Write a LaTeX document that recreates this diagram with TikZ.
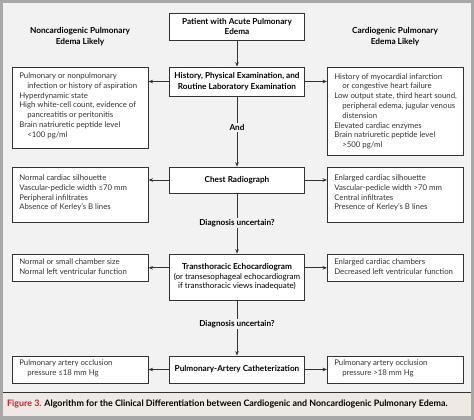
\documentclass[tikz,border=0pt]{standalone}
\usepackage{fontspec}
\setmainfont{Lato}
\usetikzlibrary{arrows.meta,calc}
\definecolor{bg}{HTML}{F2F2F2}
\definecolor{framec}{HTML}{A8A8A8}
\definecolor{capbg}{HTML}{EEE9E2}
\definecolor{capred}{HTML}{C8202F}
\definecolor{ink}{HTML}{333333}
\newcommand\pline[1]{\mbox{#1}\par}
\newcommand\iline[1]{\hspace*{8pt}\mbox{#1}\par}
\newcommand\sidetext[3]{\parbox[c][#1][t]{122pt}{\raggedright\vspace*{#2}#3}}
\begin{document}
\begin{tikzpicture}[x=1pt,y=-1pt,
  mainbox/.style={draw=ink, line width=0.8pt, fill=white, minimum width=135pt, align=center, font=\fontsize{8.2}{10.5}\selectfont\bfseries, inner sep=0pt},
  sidebox/.style={draw=ink, line width=0.6pt, fill=white, inner xsep=7pt, inner ysep=0pt, font=\fontsize{7.8}{9.8}\selectfont, anchor=north west, text=ink},
  arr/.style={draw=ink, line width=0.7pt, -{Stealth[length=4.5pt,width=3.6pt]}},
  lbl/.style={fill=bg, inner sep=1.5pt, font=\fontsize{8.2}{10}\selectfont\bfseries},
  head/.style={align=center, font=\fontsize{8.3}{11}\selectfont\bfseries}]
\useasboundingbox (0,0) rectangle (474,420);
\fill[framec] (0,0) rectangle (474,420);
\fill[bg] (3,3) rectangle (471,392);
\fill[capbg] (3,392) rectangle (471,416);
\draw[ink, line width=0.8pt] (3,392) -- (471,392);

% headings
\node[head] (hl) at (80,37) {Noncardiogenic Pulmonary\\Edema Likely};
\node[head] (hr) at (395,37) {Cardiogenic Pulmonary\\Edema Likely};

% main column
\node[mainbox, minimum height=27pt] (pat) at (237,26.5) {Patient with Acute Pulmonary\\Edema};
\node[mainbox, minimum height=29pt] (hist) at (237,81.5) {History, Physical Examination, and\\Routine Laboratory Examination};
\node[mainbox, minimum height=26pt] (cxr) at (237,180) {Chest Radiograph};
\node[mainbox, minimum height=46pt] (tte) at (237,277) {Transthoracic Echocardiogram\\[-0.5pt]{\mdseries\fontsize{8}{9.5}\selectfont (or transesophageal echocardiogram}\\[-1.5pt]{\mdseries\fontsize{8}{9.5}\selectfont if transthoracic views inadequate)}};
\node[mainbox, minimum height=27pt] (pac) at (237,369.5) {Pulmonary-Artery Catheterization};

% left column
\node[sidebox] (l1) at (12,67) {\sidetext{81pt}{5.5pt}{%
\pline{Pulmonary or nonpulmonary}\iline{infection or history of aspiration}%
\pline{Hyperdynamic state}%
\pline{High white-cell count, evidence of}\iline{pancreatitis or peritonitis}%
\pline{Brain natriuretic peptide level}\iline{<100 pg/ml}}};
\node[sidebox] (l2) at (12,167) {\sidetext{55pt}{7.5pt}{%
\pline{Normal cardiac silhouette}%
\pline{Vascular-pedicle width ≤70 mm}%
\pline{Peripheral infiltrates}%
\pline{Absence of Kerley’s B lines}}};
\node[sidebox] (l3) at (12,254) {\sidetext{27pt}{4.5pt}{%
\pline{Normal or small chamber size}%
\pline{Normal left ventricular function}}};
\node[sidebox] (l4) at (12,356) {\sidetext{27pt}{3.5pt}{%
\pline{Pulmonary artery occlusion}\iline{pressure ≤18 mm Hg}}};

% right column
\node[sidebox] (r1) at (327,67) {\sidetext{88pt}{6pt}{%
\pline{History of myocardial infarction}\iline{or congestive heart failure}%
\pline{Low output state, third heart sound,}\iline{peripheral edema, jugular venous}\iline{distension}%
\pline{Elevated cardiac enzymes}%
\pline{Brain natriuretic peptide level}\iline{>500 pg/ml}}};
\node[sidebox] (r2) at (327,167) {\sidetext{55pt}{7.5pt}{%
\pline{Enlarged cardiac silhouette}%
\pline{Vascular-pedicle width >70 mm}%
\pline{Central infiltrates}%
\pline{Presence of Kerley’s B lines}}};
\node[sidebox] (r3) at (327,254) {\sidetext{27pt}{4.5pt}{%
\pline{Enlarged cardiac chambers}%
\pline{Decreased left ventricular function}}};
\node[sidebox] (r4) at (327,356) {\sidetext{27pt}{3.5pt}{%
\pline{Pulmonary artery occlusion}\iline{pressure >18 mm Hg}}};

% vertical connectors
\draw[arr] (pat) -- (hist);
\draw[arr] (hist) -- node[lbl, pos=0.44] (and) {And} (cxr);
\draw[arr] (cxr) -- node[lbl, pos=0.49] (du1) {Diagnosis uncertain?} (tte);
\draw[arr] (tte) -- node[lbl, pos=0.43] (du2) {Diagnosis uncertain?} (pac);

% horizontal connectors
\draw[arr] (hist.west) -- (hist.west -| l1.east);
\draw[arr] (hist.east) -- (hist.east -| r1.west);
\draw[arr] (cxr.west) -- (cxr.west -| l2.east);
\draw[arr] (cxr.east) -- (cxr.east -| r2.west);
\draw[arr] (tte.west |- l3.east) -- (l3.east);
\draw[arr] (tte.east |- r3.west) -- (r3.west);
\draw[arr] (pac.west) -- (pac.west -| l4.east);
\draw[arr] (pac.east) -- (pac.east -| r4.west);

% caption
\node[anchor=west, inner sep=0pt, font=\fontsize{8.9}{10}\selectfont\bfseries] (cap) at (7,404) {\textcolor{capred}{Figure 3.} Algorithm for the Clinical Differentiation between Cardiogenic and Noncardiogenic Pulmonary Edema.};
\end{tikzpicture}
\end{document}
